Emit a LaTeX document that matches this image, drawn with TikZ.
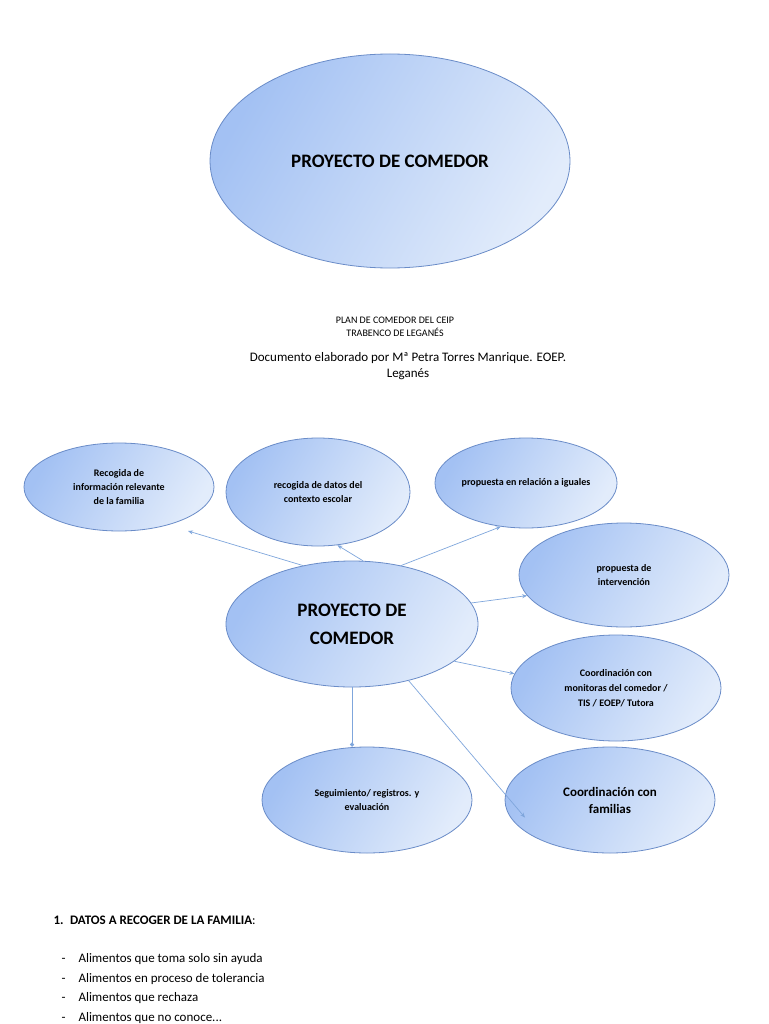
\documentclass[tikz,border=0pt]{standalone}
\usepackage{fontspec}
\setmainfont{Carlito}
\usetikzlibrary{shapes.geometric,arrows.meta}
\definecolor{edgeblue}{HTML}{6A8CC8}
\definecolor{darkfill}{HTML}{A3C1F3}
\definecolor{lightfill}{HTML}{E2ECFB}
\definecolor{arrowblue}{HTML}{7FA6DC}
\tikzset{
 bub/.style={ellipse,draw=edgeblue,line width=0.8pt,left color=darkfill,right color=lightfill,shading angle=60,align=center,font=\bfseries,inner sep=0pt},
 link/.style={draw=arrowblue,line width=0.7pt,-{Stealth[length=5pt,width=4pt]}},
}
\begin{document}
\begin{tikzpicture}[x=1pt,y=-1pt]
\useasboundingbox[fill=white] (0,0) rectangle (768,1024);
\node[bub,minimum width=360,minimum height=214,font=\bfseries\fontsize{19}{22}\selectfont] (top) at (390,161) {PROYECTO DE COMEDOR};
\node[align=center,font=\fontsize{10}{13}\selectfont] (plan) at (395,327) {PLAN DE COMEDOR DEL CEIP\\TRABENCO DE LEGANÉS};
\node[align=center,font=\fontsize{13}{16}\selectfont] (doc) at (408,366) {Documento elaborado por Mª Petra Torres Manrique. EOEP.\\Leganés};
\node[bub,minimum width=252,minimum height=126,font=\bfseries\fontsize{19}{28}\selectfont] (c) at (352,624) {PROYECTO DE\\COMEDOR};
\node[bub,minimum width=190,minimum height=88,font=\bfseries\fontsize{10}{14}\selectfont] (e1) at (119,487) {Recogida de\\información relevante\\de la familia};
\node[bub,minimum width=184,minimum height=108,font=\bfseries\fontsize{10}{14}\selectfont] (e2) at (318,492) {recogida de datos del\\contexto escolar};
\node[bub,minimum width=182,minimum height=90,font=\bfseries\fontsize{10}{14}\selectfont] (e3) at (526,483) {propuesta en relación a iguales};
\node[bub,minimum width=210,minimum height=104,font=\bfseries\fontsize{10}{14}\selectfont] (e4) at (624,575) {propuesta de\\intervención};
\node[bub,minimum width=210,minimum height=106,font=\bfseries\fontsize{10}{15}\selectfont] (e5) at (616,688) {Coordinación con\\monitoras del comedor /\\TIS / EOEP/ Tutora};
\node[bub,minimum width=210,minimum height=106,font=\bfseries\fontsize{10}{14}\selectfont] (e6) at (367,800) {Seguimiento/ registros. y\\evaluación};
\node[bub,minimum width=210,minimum height=106,font=\bfseries\fontsize{13}{17}\selectfont] (e7) at (610,800) {Coordinación con\\familias};
\draw[link] (c.130) -- (188,531) coordinate (t1);
\draw[link] (c.80) -- (e2.-70);
\draw[link] (c.50) -- (e3.-120);
\draw[link] (c.10) -- (e4.-168);
\draw[link] (c.-20) -- (e5.172);
\draw[link] (c.-45) -- (e6.-170 -| 525,766) coordinate (t7);
\draw[draw=arrowblue,line width=0.7pt,-{Circle[length=4pt]}] (c.south) -- (e6.north -| c.south);
\node[anchor=west,font=\bfseries\fontsize{13}{16}\selectfont] (h) at (50,920) {1.\enspace DATOS A RECOGER DE LA FAMILIA\textmd{:}};
\node[anchor=north west,align=left,font=\fontsize{13}{19.5}\selectfont] (list) at (58,950) {-\quad Alimentos que toma solo sin ayuda\\-\quad Alimentos en proceso de tolerancia\\-\quad Alimentos que rechaza\\-\quad Alimentos que no conoce...};
\end{tikzpicture}
\end{document}
